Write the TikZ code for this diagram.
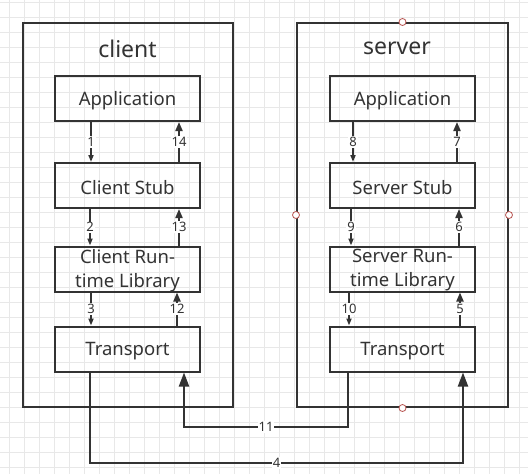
\documentclass[tikz,border=0pt]{standalone}
\usepackage{fontspec}
\setmainfont{Noto Sans}
\usetikzlibrary{arrows.meta}
\definecolor{ink}{HTML}{333333}
\definecolor{gridc}{HTML}{E8E8E8}
\definecolor{handle}{HTML}{B85450}
\newcommand{\lowertxt}[2]{\raisebox{-#1}[\height][\depth]{#2}}
\begin{document}
\begin{tikzpicture}[x=1pt,y=-1pt,
  outer/.style={draw=ink,line width=2pt},
  inner/.style={draw=ink,line width=2pt,minimum width=145pt,minimum height=45pt,inner sep=0pt,text=ink,font=\fontsize{18.5}{24}\selectfont,align=center},
  title/.style={text=ink,font=\fontsize{23}{27}\selectfont},
  lbl/.style={fill=white,text=ink,inner sep=1pt,font=\fontsize{13}{15}\selectfont},
  dn/.style={draw=ink,line width=2pt,-{Triangle[width=5pt,length=7pt]}},
  up/.style={draw=ink,line width=2pt,-{Triangle[width=7pt,length=9pt]}},
  big/.style={draw=ink,line width=2pt,-{Triangle[width=10pt,length=14pt]}},
  hnd/.style={circle,draw=handle,fill=white,line width=0.8pt,minimum size=7pt,inner sep=0pt}]
\useasboundingbox (0,0) rectangle (528,474);
\fill[white] (0,0) rectangle (528,474);
% grid
\foreach \gx in {0,...,35} {\draw[gridc,line width=0.8pt] (9.5+15*\gx,0) -- (9.5+15*\gx,474);}
\foreach \gy in {0,...,31} {\draw[gridc,line width=0.8pt] (0,2.7+15*\gy) -- (528,2.7+15*\gy);}
% outer boxes
\node[outer,minimum width=210pt,minimum height=384pt,inner sep=0pt] (cbox) at (127.5,215) {};
\node[outer,minimum width=211pt,minimum height=384pt,inner sep=0pt] (sbox) at (402.5,215) {};
\node[title] (ctitle) at (127.5,48.5) {client};
\node[title] (stitle) at (397,48.5) {server};
% client boxes
\node[inner] (capp) at (127.5,98.5) {\lowertxt{2.5pt}{Application}};
\node[inner] (cstub) at (127.5,185.5) {\lowertxt{2.5pt}{Client Stub}};
\node[inner] (clib) at (127.5,269) {\lowertxt{1.5pt}{\parbox{140pt}{\centering Client Run-\\time Library}}};
\node[inner] (ctr) at (127.5,349) {\lowertxt{2.5pt}{Transport}};
% server boxes
\node[inner] (sapp) at (402.5,98.5) {\lowertxt{2.5pt}{Application}};
\node[inner] (sstub) at (402.5,185.5) {\lowertxt{2.5pt}{Server Stub}};
\node[inner] (slib) at (402.5,269) {\lowertxt{1.5pt}{\parbox{140pt}{\centering Server Run-\\time Library}}};
\node[inner] (str) at (402.5,349) {\lowertxt{2.5pt}{Transport}};
% client vertical arrows
\draw[dn] (capp.south -| 91,0) -- node[lbl]{1} (cstub.north -| 91,0);
\draw[up] (cstub.north -| 179,0) -- node[lbl]{14} (capp.south -| 179,0);
\draw[dn] (cstub.south -| 90,0) -- node[lbl]{2} (clib.north -| 90,0);
\draw[up] (clib.north -| 179,0) -- node[lbl]{13} (cstub.south -| 179,0);
\draw[dn] (clib.south -| 91,0) -- node[lbl]{3} (ctr.north -| 91,0);
\draw[up] (ctr.north -| 177,0) -- node[lbl]{12} (clib.south -| 177,0);
% server vertical arrows
\draw[dn] (sapp.south -| 353,0) -- node[lbl]{8} (sstub.north -| 353,0);
\draw[up] (sstub.north -| 457,0) -- node[lbl]{7} (sapp.south -| 457,0);
\draw[dn] (sstub.south -| 351,0) -- node[lbl]{9} (slib.north -| 351,0);
\draw[up] (slib.north -| 459,0) -- node[lbl]{6} (sstub.south -| 459,0);
\draw[dn] (slib.south -| 349,0) -- node[lbl]{10} (str.north -| 349,0);
\draw[up] (str.north -| 460,0) -- node[lbl]{5} (slib.south -| 460,0);
% bottom connectors
\coordinate (b11) at (348,427);
\coordinate (b4) at (90,463);
\draw[big] (str.south -| b11) -- (b11) -- node[lbl,pos=0.5]{11} (b11 -| 184,0) -- (ctr.south -| 184,0);
\draw[big] (ctr.south -| b4) -- (b4) -- node[lbl,pos=0.5]{4} (b4 -| 463,0) -- (str.south -| 463,0);
% selection handles
\node[hnd] (h1) at (sbox.north) {};
\node[hnd] (h2) at (sbox.west) {};
\node[hnd] (h3) at (sbox.east) {};
\node[hnd] (h4) at (sbox.south) {};
\end{tikzpicture}
\end{document}
